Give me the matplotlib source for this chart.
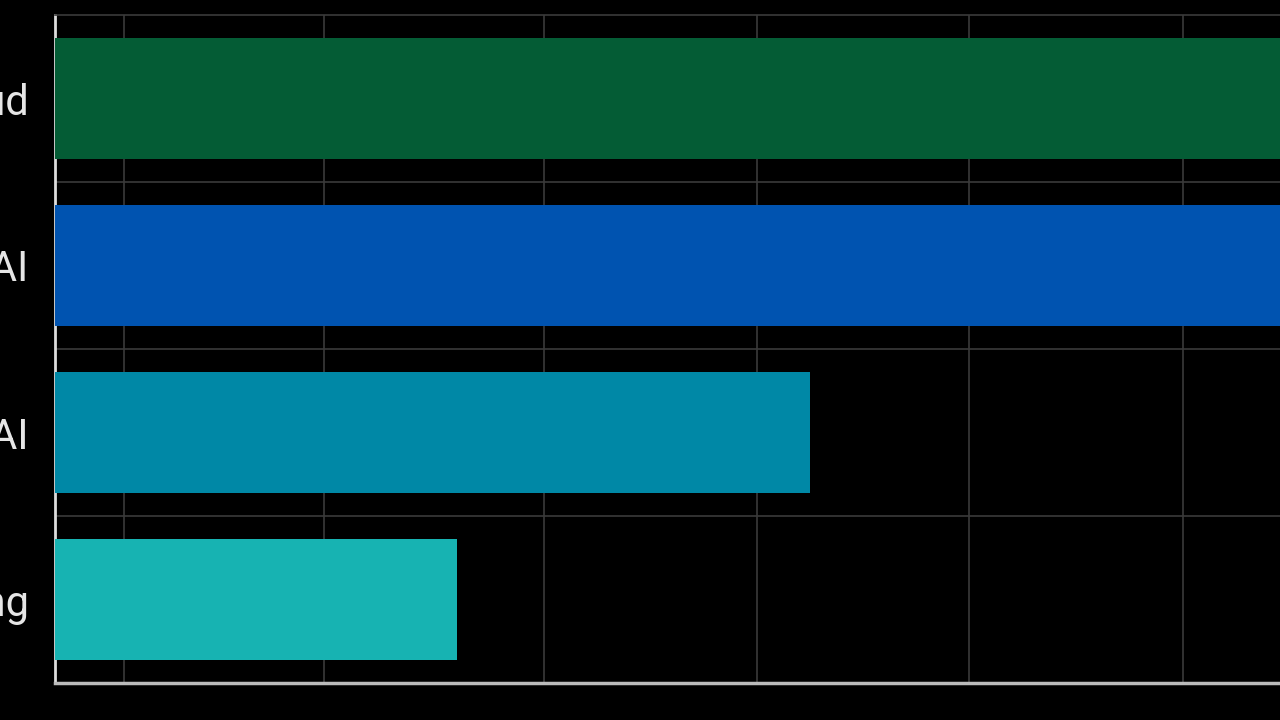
import matplotlib.pyplot as plt
import numpy as np

# Data (only the visible window of a larger bar chart)
labels = ["Microsoft Bing", "Stability AI", "OpenAI", "Google Cloud"]
values = [402, 755, 1400, 1520]
colors = ["#17B3B2", "#0088A6", "#0053B0", "#045C35"]
grid_ticks = [69, 269, 489, 702, 914, 1128]

fig = plt.figure(figsize=(12.8, 7.2), dpi=100, facecolor="black")

# axes reaches past the right edge of the frame, like the cropped original
ax = fig.add_axes([55 / 1280, 37 / 720, 1225 / 1280, 668 / 720])
ax.set_facecolor("black")

y = np.arange(len(labels))
ax.barh(y, values, height=0.73, color=colors, zorder=3)

ax.set_xlim(0, 1225)
ax.set_ylim(-0.5, len(labels) - 0.5)

ax.set_xticks(grid_ticks)
ax.set_xticklabels([])
ax.set_yticks(y)
ax.set_yticklabels(labels, fontsize=30, color="#e6e6e6", family="Roboto")
ax.set_yticks(y[:-1] + 0.5, minor=True)
ax.tick_params(axis="y", which="both", length=0, pad=19)
ax.tick_params(axis="x", length=0)

ax.grid(axis="x", color="#3a3a3a", linewidth=1.2, zorder=0)
ax.grid(axis="y", which="minor", color="#3a3a3a", linewidth=1.2, zorder=0)

ax.spines["right"].set_visible(False)
ax.spines["top"].set_color("#3a3a3a")
ax.spines["top"].set_linewidth(1.2)
ax.spines["left"].set_color("#dddddd")
ax.spines["left"].set_linewidth(2)
ax.spines["bottom"].set_color("#bbbbbb")
ax.spines["bottom"].set_linewidth(2.5)

fig.savefig("out.png", dpi=100, facecolor="black")
